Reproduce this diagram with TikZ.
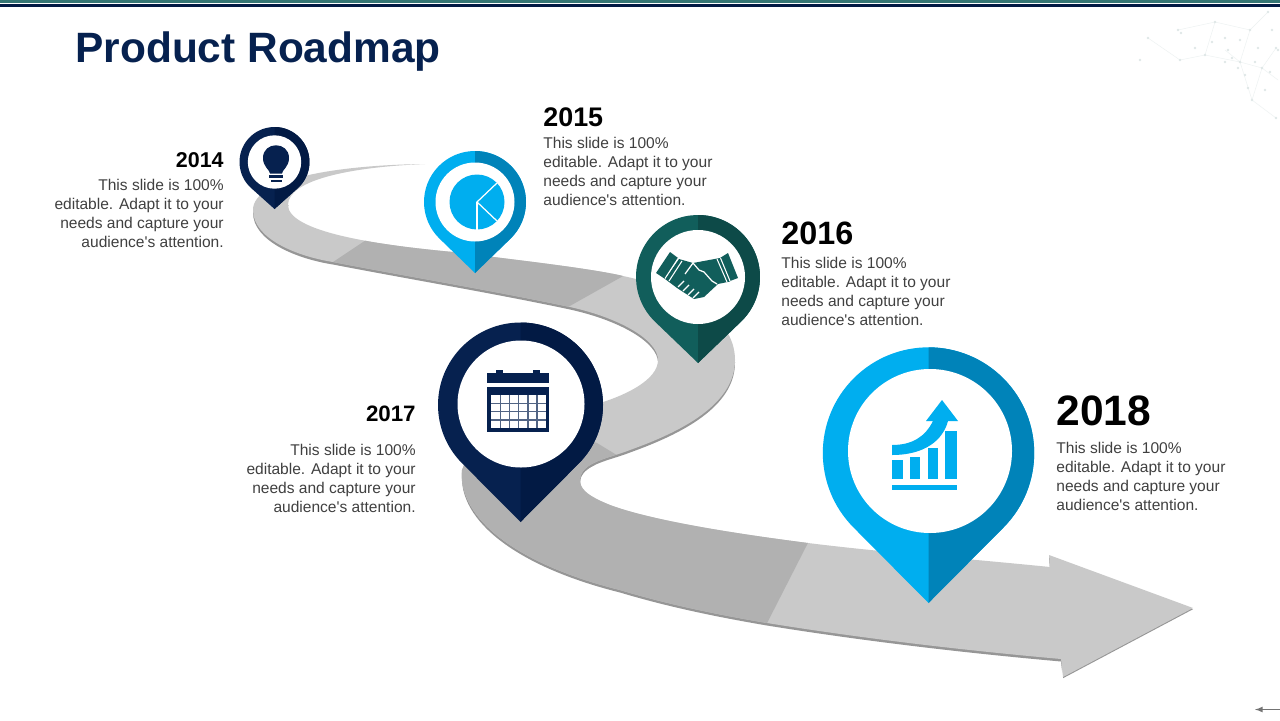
\documentclass[tikz,border=0pt]{standalone}
\usepackage{fontspec}
\setmainfont{Liberation Sans}
\usetikzlibrary{calc}
\definecolor{navyL}{HTML}{06214F}
\definecolor{navyR}{HTML}{021A44}
\definecolor{skyL}{HTML}{00AEEF}
\definecolor{skyR}{HTML}{0083B9}
\definecolor{tealL}{HTML}{115E5B}
\definecolor{tealR}{HTML}{0D4A48}
\definecolor{roadlight}{HTML}{C9C9C9}
\definecolor{roaddark}{HTML}{B1B1B1}
\definecolor{roadedge}{HTML}{969696}
\definecolor{webgrey}{HTML}{DFE7E7}
\tikzset{
	yeartext/.style={anchor=base west,inner sep=0pt,font=\bfseries,text=black},
	bodytext/.style={inner sep=0pt,text=black!75,font=\fontsize{8.85}{10.77}\selectfont},
	edgeshift/.style={shift={(0,2.5)}}
}
% pin: (centre x,centre y)(radius:tip y:white radius){left colour}{right colour}
\def\pinmark(#1,#2)(#3:#4:#5)#6#7{
	\pgfmathsetmacro{\pinalpha}{acos(#3/(#4-#2))}
	\fill[#6] (#1,#4) -- ($(#1,#2)+({#3*cos(90+\pinalpha)},{#3*sin(90+\pinalpha)})$) arc (90+\pinalpha:450-\pinalpha:#3) -- cycle;
	\fill[#7] (#1,#4) -- ($(#1,#2)+({#3*cos(90-\pinalpha)},{#3*sin(90-\pinalpha)})$) arc (90-\pinalpha:-90:#3) -- cycle;
}
\def\blurb{This slide is 100\%\\editable. Adapt it to your\\needs and capture your\\audience\textquotesingle s attention.}
\def\roadpath{(425,164) .. controls (340,165) and (253,178) .. (253,210)
	.. controls (253,238) and (295,256) .. (333,262)
	.. controls (400,275) and (500,292) .. (570,307)
	.. controls (620,318) and (658,340) .. (658,360)
	.. controls (658,380) and (625,395) .. (603,402)
	-- (560,420) -- (470,450) -- (462,470)
	.. controls (458,520) and (520,565) .. (620,590)
	.. controls (670,605) and (720,615) .. (767,623)
	.. controls (860,638) and (960,650) .. (1061,659)
	-- (1063,677) -- (1193,608) -- (1049,555) -- (1050,567)
	.. controls (960,558) and (880,552) .. (808,543)
	.. controls (730,533) and (650,520) .. (610,505)
	.. controls (585,495) and (580,488) .. (580,480)
	.. controls (580,462) and (610,458) .. (630,450)
	.. controls (680,432) and (735,405) .. (735,360)
	.. controls (735,315) and (680,288) .. (623,276)
	.. controls (590,268) and (500,258) .. (453,252)
	.. controls (400,247) and (288,235) .. (288,205)
	.. controls (288,180) and (350,167) .. (425,164) -- cycle}

\begin{document}
\begin{tikzpicture}[x=0.02cm,y=-0.02cm]
	\useasboundingbox (0,0) rectangle (1280,720);
	\fill[white] (0,0) rectangle (1280,720);

	% top rules
	\fill[tealL!85!white] (0,0) rectangle (1280,3);
	\fill[navyR] (0,4.2) rectangle (1280,6.5);

	% faint web in the corner
	\foreach \xa/\ya/\xb/\yb in {1215/22/1250/30,1250/30/1268/12,1250/30/1240/62,1240/62/1262/68,1262/68/1276/48,1240/62/1205/55,1205/55/1215/22,1205/55/1180/60,1240/62/1252/100,1252/100/1276/118,1262/68/1252/100,1180/60/1148/38,1215/22/1178/30,1225/50/1240/62,1262/68/1278/80}
		\draw[webgrey!60!white,line width=0.25pt] (\xa,\ya) -- (\xb,\yb);
	\foreach \xa/\ya in {1215/22,1250/30,1268/12,1240/62,1262/68,1276/48,1205/55,1180/60,1252/100,1276/118,1148/38,1178/30,1225/38,1258/48,1238/68,1245/75,1232/58,1255/62,1270/72,1278/50,1265/90,1248/88,1225/62,1212/42,1181/33,1140/60,1195/48,1228/50,1240/40,1272/30}
		\fill[webgrey] (\xa,\ya) circle (1.3);

	% road, its dark lip first
	\begin{scope}
		\clip (240,205) rectangle (670,360);
		\fill[roadedge,edgeshift] \roadpath;
	\end{scope}
	\begin{scope}
		\clip (690,355) -- (750,355) -- (750,480) -- (575,490) -- (575,465) -- (620,440) -- cycle;
		\fill[roadedge,edgeshift] \roadpath;
	\end{scope}
	\begin{scope}
		\clip (455,465) rectangle (1062,685);
		\fill[roadedge,edgeshift] \roadpath;
	\end{scope}
	\begin{scope}
		\clip (1063,660) -- (1200,600) -- (1200,700) -- (1063,700) -- cycle;
		\fill[roadedge,shift={(0,1.2)}] \roadpath;
	\end{scope}
	\fill[roadlight] \roadpath;
	\begin{scope}
		\clip (378,232) -- (318,272) -- (552,316) -- (641,266) -- cycle;
		\fill[roaddark] \roadpath;
	\end{scope}
	\begin{scope}
		\clip (560,430) -- (597,443) -- (620,457) -- (813,533) -- (762,633) -- (440,640) -- (440,430) -- cycle;
		\fill[roaddark] \roadpath;
	\end{scope}

	% pins
	\pinmark(274.5,162)(35:209:26.7){navyL}{navyR}
	\fill[white] (274.5,162) circle (26.7);
	\pinmark(475,202)(51:273:39.5){skyL}{skyR}
	\fill[white] (475,202) circle (39.5);
	\pinmark(698,277)(62:363:47){tealL}{tealR}
	\fill[white] (698,277) circle (47);
	\pinmark(520.5,405)(82.5:522:63.5){navyL}{navyR}
	\fill[white] (521,404) circle (63.5);
	\pinmark(928.5,453)(105.7:603:82){skyL}{skyR}
	\fill[white] (930,451) circle (82);

	% bulb
	\fill[navyL] (270,173.5) .. controls (270,170) and (263,167) .. (263,158) .. controls (263,141) and (289,141) .. (289,158) .. controls (289,167) and (282,170) .. (282,173.5) -- cycle;
	\fill[navyL] (268.5,175) rectangle (283,178);
	\fill[navyL] (270.5,179.5) rectangle (281.5,181.6);

	% pie
	\fill[skyL] (477,202) circle (27.5);
	\draw[white,line width=0.7pt] (497,183) -- (477,202) -- (497,221);
	\draw[white,line width=0.7pt] (477,202) -- (477,230);

	% handshake
	\fill[tealL] (670,252) -- (678,258) -- (665,279) -- (656,273) -- cycle;
	\fill[tealL] (728,253) -- (738,278) -- (730,281) -- (720,258) -- cycle;
	\fill[tealL] (679,259) -- (693,263) -- (720,258) -- (730,281.5) -- (718,284) -- (704,297) -- (694,299) -- (677,288) -- (665,279) -- cycle;
	\draw[white,line width=0.6pt] (678,258.5) -- (665,278.5);
	\draw[white,line width=0.6pt] (682,261) -- (669,281);
	\draw[white,line width=0.6pt] (720.5,258) -- (730,281);
	\draw[white,line width=0.6pt] (717,259) -- (727,282);
	\draw[white,line width=0.7pt] (685,274) -- (693,263) -- (699,270) -- (704,272) -- (712,281) -- (717,284);
	\foreach \xa/\ya in {678/287,683/291,688/295,693/298}
		\draw[white,line width=0.7pt] (\xa,\ya) -- ++(6,-6);

	% calendar
	\fill[navyL] (487,373) rectangle (549,383);
	\fill[navyL] (496,370) rectangle (503,373);
	\fill[navyL] (533,370) rectangle (540,373);
	\fill[navyL] (487,387) rectangle (549,432);
	\fill[white] (491,395) rectangle (546,428);
	\foreach \xa in {500.2,509.4,518.6,527.8,537}
		\draw[navyL!70!white,line width=0.8pt] (\xa,395) -- (\xa,428);
	\foreach \ya in {403.2,411.5,419.8}
		\draw[navyL!70!white,line width=0.8pt] (491,\ya) -- (546,\ya);

	% growth chart
	\fill[skyL] (892,485) rectangle (957,490);
	\fill[skyL] (892,460) rectangle (903,479);
	\fill[skyL] (910,457) rectangle (920,479);
	\fill[skyL] (928,448) rectangle (938,479);
	\fill[skyL] (945,431) rectangle (957,479);
	\fill[skyL] (892,445) .. controls (912,445) and (925,437) .. (933,421) -- (926,421) -- (942,400) -- (958,421) -- (948,421) .. controls (943,440) and (925,455) .. (892,455) -- cycle;

	% texts
	\node[anchor=base west,inner sep=0pt,text=navyL,font=\bfseries\fontsize{24.15}{28}\selectfont] (title) at (75,62) {Product Roadmap};

	\node[yeartext,anchor=base east,font=\bfseries\fontsize{12.2}{14}\selectfont] (y2014) at (224,167) {2014};
	\node[bodytext,anchor=north east,align=right] (t2014) at (224,179) {\blurb};

	\node[yeartext,font=\bfseries\fontsize{15.3}{18}\selectfont] (y2015) at (543,126) {2015};
	\node[bodytext,anchor=north west,align=left] (t2015) at (543,137) {\blurb};

	\node[yeartext,font=\bfseries\fontsize{18.4}{22}\selectfont] (y2016) at (781,244) {2016};
	\node[bodytext,anchor=north west,align=left] (t2016) at (781,257) {\blurb};

	\node[yeartext,anchor=base east,font=\bfseries\fontsize{12.7}{15}\selectfont] (y2017) at (416,421) {2017};
	\node[bodytext,anchor=north east,align=right] (t2017) at (416,444) {\blurb};

	\node[yeartext,font=\bfseries\fontsize{24.2}{28}\selectfont] (y2018) at (1056,425) {2018};
	\node[bodytext,anchor=north west,align=left] (t2018) at (1056,442) {\blurb};

	% back arrow in the corner
	\coordinate (backstart) at (1280,709.5);
	\coordinate (backend) at (1255,709.5);
	\draw[-latex,black!55,line width=0.5pt] (backstart) -- (backend);
\end{tikzpicture}
\end{document}
